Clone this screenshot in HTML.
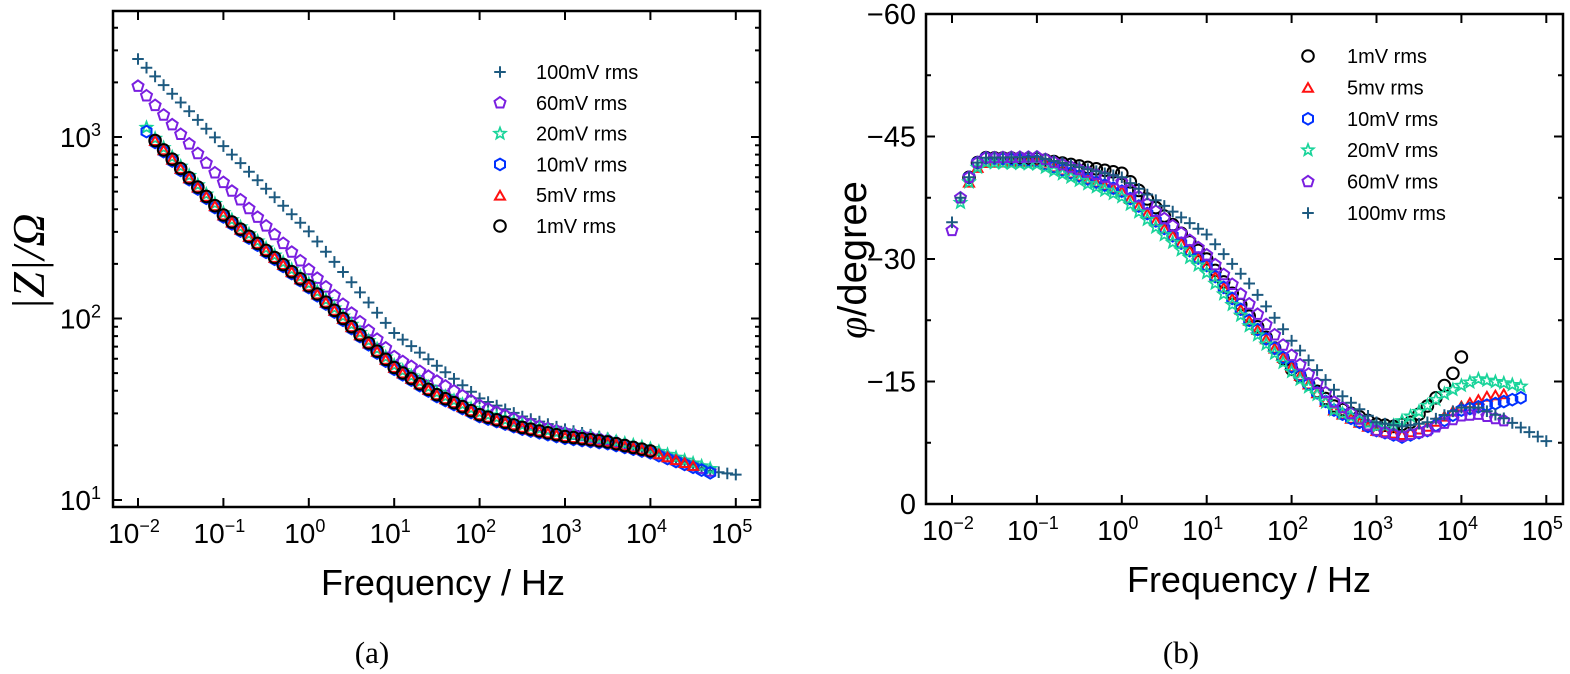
<!DOCTYPE html>
<html><head><meta charset="utf-8"><style>
body{margin:0;background:#fff;}
svg{display:block;font-family:"Liberation Sans",sans-serif;}
</style></head><body>
<svg id="s" width="1570" height="674" xmlns="http://www.w3.org/2000/svg"></svg>
<script>
const S=document.getElementById('s');let h='';
const C={cross:'#1d5a80',pent:'#7a1fe0',star:'#19d49a',hex:'#0030ff',tri:'#ff1010',circ:'#000'};
function interp(pts,x){if(x<=pts[0][0])return pts[0][1];for(let i=1;i<pts.length;i++){if(x<=pts[i][0]){const a=pts[i-1],b=pts[i];return a[1]+(b[1]-a[1])*(x-a[0])/(b[0]-a[0]);}}return pts[pts.length-1][1];}
function mk(t,x,y,r){x=+x;y=+y;r=r||5.8;const c=C[t];
 if(t=='cross')return `<path d="M${x-r} ${y}H${x+r}M${x} ${y-r}V${y+r}" stroke="${c}" stroke-width="2" fill="none"/>`;
 if(t=='circ')return `<circle cx="${x}" cy="${y}" r="${r}" stroke="${c}" stroke-width="2" fill="none"/>`;
 if(t=='star'){let p=[];for(let i=0;i<10;i++){const a=(-90+i*36)*Math.PI/180,q=i%2?r*0.45:r*1.05;p.push((x+q*Math.cos(a)).toFixed(1)+','+(y+q*Math.sin(a)).toFixed(1));}return `<polygon points="${p.join(' ')}" stroke="${c}" stroke-width="1.7" fill="none"/>`;}
 let n=t=='tri'?3:(t=='pent'?5:6),rot=-90;
 let p=[];for(let i=0;i<n;i++){const a=(rot+i*360/n)*Math.PI/180;p.push((x+r*Math.cos(a)).toFixed(1)+','+(y+(t=='tri'?1.5:0)+r*Math.sin(a)).toFixed(1));}
 return `<polygon points="${p.join(' ')}" stroke="${c}" stroke-width="2" fill="none"/>`;}
// ---------- Left plot
const LX=f=>138+(f+2)*85.4, LY=z=>137+(3-z)*181.5;
const L0=113,L1=760,T0=11,B0=507;
h+=`<rect x="${L0}" y="${T0}" width="${L1-L0}" height="${B0-T0}" fill="none" stroke="#000" stroke-width="2.5"/>`;
for(let d=-2;d<=5;d++){const x=LX(d);h+=`<path d="M${x} ${B0}v-9M${x} ${T0}v9" stroke="#000" stroke-width="2"/>`;
 h+=`<text x="${x-4}" y="543" font-size="28" text-anchor="middle">10<tspan dy="-11" font-size="18">${d<0?'−'+(-d):d}</tspan></text>`;}
for(let e=0;e<4;e++)for(let m=1;m<10;m++){const z=e+Math.log10(m);const y=LY(z);if(y<T0||y>B0)continue;
 const len=m==1?9:5;h+=`<path d="M${L0} ${y}h${len}M${L1} ${y}h-${len}" stroke="#000" stroke-width="2"/>`;
 if(m==1&&e>=1)h+=`<text x="${L0-12}" y="${y+10}" font-size="28" text-anchor="end">10<tspan dy="-11" font-size="18">${e}</tspan></text>`;}
const base=[[-2,3.1],[-1.8,2.98],[-1,2.57],[0,2.18],[1,1.73],[1.5,1.58],[2,1.47],[2.5,1.4],[3,1.35],[3.5,1.32],[4,1.27],[4.5,1.19],[4.7,1.16],[5,1.14]];
const LS=[
 ['cross',-2,5,[[-2,3.43],[-1,2.95],[0,2.48],[1,1.92],[2,1.56],[2.5,1.46],[3,1.39],[3.5,1.34],[4,1.27],[4.5,1.19],[4.7,1.16],[5,1.14]]],
 ['pent',-2,4.7,[[-2,3.28],[-1,2.75],[0,2.27],[1,1.79],[2,1.52],[2.5,1.43],[3,1.37],[3.5,1.33],[4,1.27],[4.5,1.19],[4.7,1.16]]],
 ['star',-1.9,4.7,base.map(p=>[p[0],p[1]+0.012])],
 ['hex',-1.9,4.7,base.map(p=>[p[0],p[1]-0.01])],
 ['tri',-1.8,4.5,base],
 ['circ',-1.8,4,base]];
for(const [t,a,b,pts] of LS){for(let k=Math.round(a*10);k<=Math.round(b*10);k++){const f=k/10;h+=mk(t,LX(f).toFixed(1),LY(interp(pts,f)).toFixed(1));}}
const lg1=[['cross','100mV rms'],['pent','60mV rms'],['star','20mV rms'],['hex','10mV rms'],['tri','5mV rms'],['circ','1mV rms']];
lg1.forEach((e,i)=>{const y=72+i*30.8;h+=mk(e[0],500,y);h+=`<text x="536" y="${y+7}" font-size="20">${e[1]}</text>`;});
h+=`<text x="443" y="595" font-size="36" text-anchor="middle">Frequency / Hz</text>`;
h+=`<text transform="translate(44,262) rotate(-90)" font-size="46" text-anchor="middle" font-family="Liberation Serif,serif" font-style="italic">|Z|/Ω</text>`;
h+=`<text x="372" y="663" font-size="31" text-anchor="middle" font-family="Liberation Serif,serif">(a)</text>`;
// ---------- Right plot
const RX=f=>952+(f+2)*84.9, RY=m=>504-m*(490/60);
const R0=926,R1=1563,T1=14,B1=504;
h+=`<rect x="${R0}" y="${T1}" width="${R1-R0}" height="${B1-T1}" fill="none" stroke="#000" stroke-width="2.5"/>`;
for(let d=-2;d<=5;d++){const x=RX(d);h+=`<path d="M${x} ${B1}v-9M${x} ${T1}v9" stroke="#000" stroke-width="2"/>`;
 h+=`<text x="${x-4}" y="540" font-size="28" text-anchor="middle">10<tspan dy="-11" font-size="18">${d<0?'−'+(-d):d}</tspan></text>`;}
for(let m=0;m<=60;m+=7.5){const y=RY(m);const len=m%15==0?9:5;h+=`<path d="M${R0} ${y}h${len}M${R1} ${y}h-${len}" stroke="#000" stroke-width="2"/>`;
 if(m%15==0)h+=`<text x="${R0-10}" y="${y+10}" font-size="29" text-anchor="end">${m==0?'0':'−'+m}</text>`;}
const rise=[[-2,33.5],[-1.9,37.5],[-1.8,40],[-1.7,41.8],[-1.6,42.4]];
const RS=[
 ['circ',-1.8,4,rise.concat([[-1,42.3],[0,40.5],[1,30],[1.5,23],[2,16.5],[2.5,12],[3,9.8],[3.2,9.5],[3.4,10],[3.5,11],[3.7,13],[3.8,14.5],[3.9,16],[4,18]])],
 ['tri',-1.8,4.5,rise.map(p=>[p[0],p[1]-0.6]).concat([[-1,42],[0,38.3],[1,29.2],[1.5,22.5],[2,16.8],[2.5,11.5],[3,9],[3.3,8.5],[3.6,9.5],[4,12],[4.3,13.2],[4.5,13.5]])],
 ['hex',-1.8,4.7,rise.concat([[-1,42],[0,38.3],[1,29.2],[1.5,22.5],[2,16.8],[2.5,11.5],[3,9],[3.3,8.2],[3.6,9],[4,11.5],[4.4,12.3],[4.7,13]])],
 ['star',-1.9,4.7,rise.map(p=>[p[0],p[1]-0.6]).concat([[-1,41.6],[0,37.6],[1,28.3],[1.5,21.8],[2,16.2],[2.5,11.5],[3,9.5],[3.2,9.6],[3.5,11.3],[3.8,13.5],[4,14.5],[4.2,15.3],[4.5,14.8],[4.7,14.4]])],
 ['pent',-2,4.5,rise.concat([[-1,42.5],[0,39.4],[1,30.5],[1.5,24.5],[2,18.2],[2.5,12.5],[3,9],[3.3,8.3],[3.6,9],[4,10.8],[4.2,11],[4.5,10.2]])],
 ['cross',-2,5,[[-2,34.5],[-1.9,37.5],[-1.8,40],[-1.7,41.8],[-1.6,42.4],[-1,42.5],[0,40],[1,33],[1.5,27],[2,20],[2.5,14],[3,10],[3.3,9.5],[3.6,10],[4,11.8],[4.2,11.8],[4.5,10.5],[4.8,8.8],[5,7.7]]]];
for(const [t,a,b,pts] of RS){for(let k=Math.round(a*10);k<=Math.round(b*10);k++){const f=k/10;h+=mk(t,RX(f).toFixed(1),RY(interp(pts,f)).toFixed(1));}}
const lg2=[['circ','1mV rms'],['tri','5mv rms'],['hex','10mV rms'],['star','20mV rms'],['pent','60mV rms'],['cross','100mv rms']];
lg2.forEach((e,i)=>{const y=56+i*31.4;h+=mk(e[0],1308,y);h+=`<text x="1347" y="${y+7}" font-size="20">${e[1]}</text>`;});
h+=`<text x="1249" y="592" font-size="36" text-anchor="middle">Frequency / Hz</text>`;
h+=`<text transform="translate(866,260) rotate(-90)" font-size="40" text-anchor="middle"><tspan font-family="Liberation Serif,serif" font-style="italic">φ</tspan>/degree</text>`;
h+=`<text x="1181" y="663" font-size="31" text-anchor="middle" font-family="Liberation Serif,serif">(b)</text>`;
S.innerHTML=h;
</script>
</body></html>
